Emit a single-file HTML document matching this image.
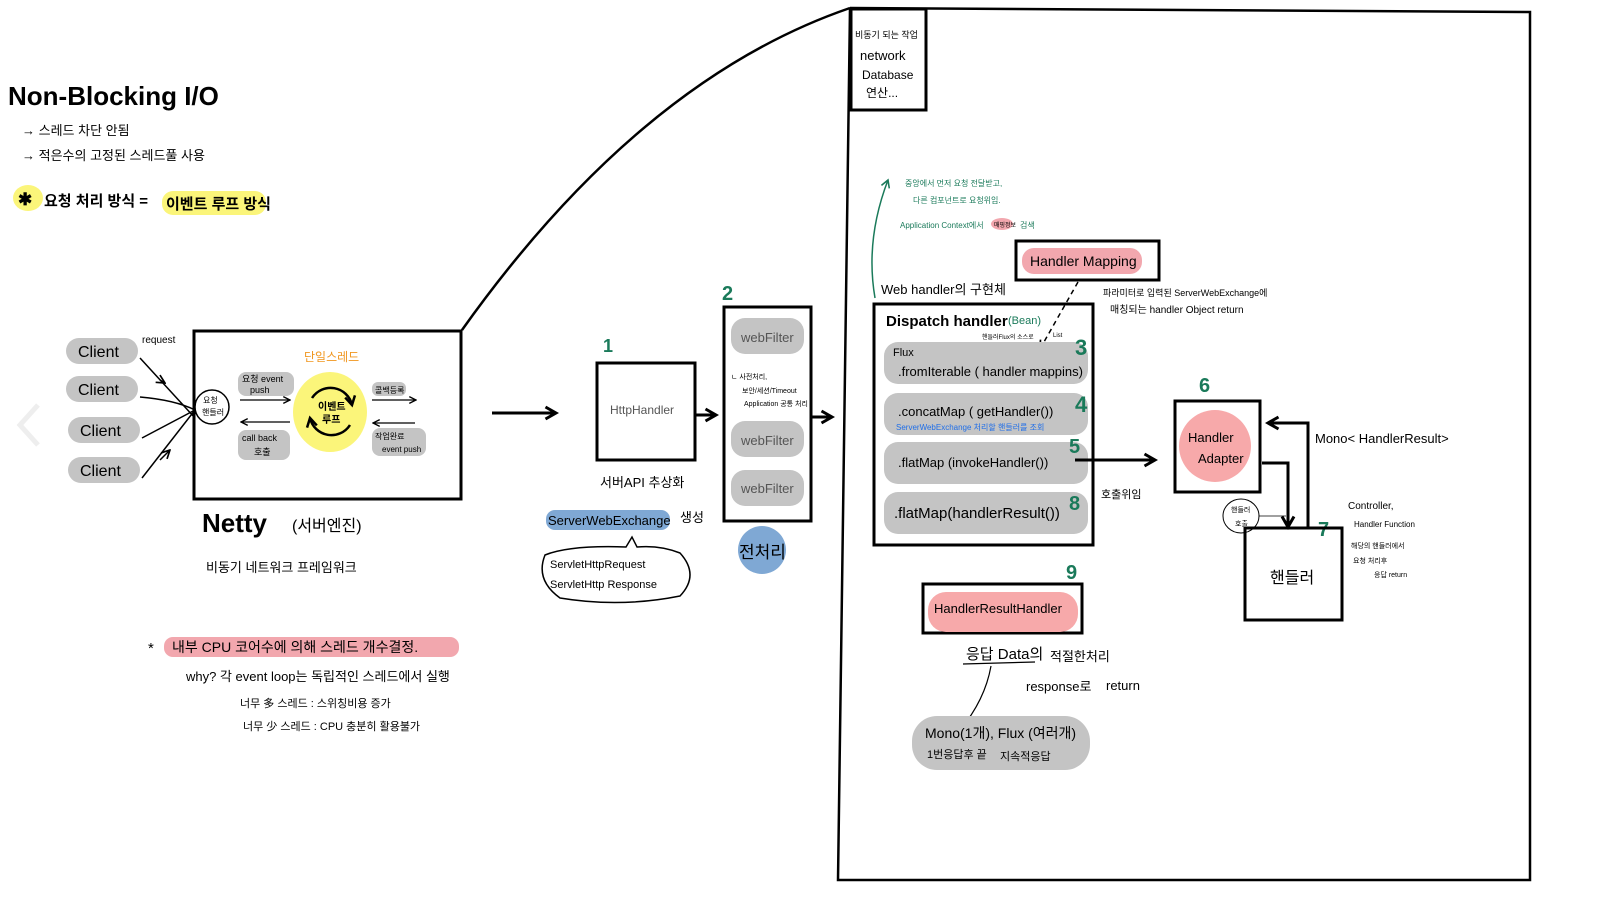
<!DOCTYPE html>
<html><head><meta charset="utf-8"><style>
html,body{margin:0;padding:0;background:#fff;}
svg{display:block;font-family:"Liberation Sans","Noto Sans CJK KR",sans-serif;}
</style></head><body>
<svg width="1598" height="901" viewBox="0 0 1598 901" xmlns="http://www.w3.org/2000/svg">
<defs>
<marker id="ah" viewBox="0 0 10 10" refX="9" refY="5" markerWidth="7" markerHeight="7" orient="auto"><path d="M1 1 L9 5 L1 9" fill="none" stroke="#000" stroke-width="1.6"/></marker>
<marker id="ahb" viewBox="0 0 10 10" refX="8" refY="5" markerWidth="5" markerHeight="5" orient="auto"><path d="M1 1 L8 5 L1 9" fill="none" stroke="#000" stroke-width="2"/></marker>
<marker id="ahg" viewBox="0 0 10 10" refX="8" refY="5" markerWidth="7" markerHeight="7" orient="auto"><path d="M1 1 L8 5 L1 9" fill="none" stroke="#1a7a5a" stroke-width="1.5"/></marker>
</defs>

<path d="M38 405 L20 425 L38 445" fill="none" stroke="#eee" stroke-width="5"/>

<text x="8" y="105" font-size="26" font-weight="bold">Non-Blocking I/O</text>
<text x="22" y="135" font-size="13">→ 스레드 차단 안됨</text>
<text x="22" y="160" font-size="13">→ 적은수의 고정된 스레드풀 사용</text>
<ellipse cx="28" cy="198" rx="15" ry="13" fill="#fbf57a"/>
<text x="18" y="205" font-size="17" font-weight="bold">✱</text>
<text x="44" y="206" font-size="15" font-weight="bold">요청 처리 방식 =</text>
<rect x="162" y="191" width="104" height="24" rx="11" fill="#fbf57a"/>
<text x="166" y="209" font-size="15" font-weight="bold">이벤트 루프 방식</text>

<g font-size="16">
<rect x="66" y="338" width="72" height="26" rx="13" fill="#c4c4c4"/><text x="78" y="357">Client</text>
<rect x="66" y="376" width="72" height="26" rx="13" fill="#c4c4c4"/><text x="78" y="395">Client</text>
<rect x="68" y="417" width="72" height="26" rx="13" fill="#c4c4c4"/><text x="80" y="436">Client</text>
<rect x="68" y="457" width="72" height="26" rx="13" fill="#c4c4c4"/><text x="80" y="476">Client</text>
</g>
<text x="142" y="343" font-size="10">request</text>
<g stroke="#000" stroke-width="1.5" fill="none">
<path d="M140 358 L195 418" /><path d="M160 380 L165 383" marker-end="url(#ah)"/>
<path d="M140 397 Q175 400 195 410"/>
<path d="M142 438 L195 410"/>
<path d="M142 478 L195 410"/><path d="M160 460 L170 450" marker-end="url(#ah)"/>
</g>

<rect x="194" y="331" width="267" height="168" fill="none" stroke="#000" stroke-width="3"/>
<circle cx="212" cy="407" r="17" fill="#fff" stroke="#000" stroke-width="1.5"/>
<text x="203" y="403" font-size="8">요청</text><text x="202" y="415" font-size="8">핸들러</text>
<text x="304" y="361" font-size="12" fill="#f0961e">단일스레드</text>
<rect x="238" y="372" width="56" height="24" rx="8" fill="#c4c4c4"/>
<text x="242" y="382" font-size="9">요청 event</text><text x="250" y="393" font-size="9">push</text>
<line x1="240" y1="400" x2="290" y2="400" stroke="#000" stroke-width="1.2" marker-end="url(#ah)"/>
<line x1="290" y1="422" x2="241" y2="422" stroke="#000" stroke-width="1.2" marker-end="url(#ah)"/>
<rect x="238" y="430" width="52" height="30" rx="8" fill="#c4c4c4"/>
<text x="242" y="441" font-size="9">call back</text><text x="254" y="455" font-size="9">호출</text>
<ellipse cx="330" cy="412" rx="37" ry="40" fill="#fbf57a"/>
<path d="M312 398 A22 22 0 0 1 352 405" fill="none" stroke="#000" stroke-width="2.5" marker-end="url(#ahb)"/>
<path d="M350 425 A22 22 0 0 1 310 418" fill="none" stroke="#000" stroke-width="2.5" marker-end="url(#ahb)"/>
<text x="318" y="410" font-size="10" font-weight="bold">이벤트</text><text x="322" y="423" font-size="10" font-weight="bold">루프</text>
<rect x="372" y="382" width="34" height="14" rx="6" fill="#c4c4c4"/><text x="375" y="393" font-size="8">콜백등록</text>
<line x1="372" y1="400" x2="416" y2="400" stroke="#000" stroke-width="1.2" marker-end="url(#ah)"/>
<line x1="415" y1="423" x2="373" y2="423" stroke="#000" stroke-width="1.2" marker-end="url(#ah)"/>
<rect x="372" y="428" width="54" height="28" rx="8" fill="#c4c4c4"/>
<text x="375" y="439" font-size="8">작업완료</text><text x="382" y="452" font-size="8">event push</text>
<text x="202" y="532" font-size="26" font-weight="bold">Netty</text>
<text x="292" y="531" font-size="16">(서버엔진)</text>
<text x="206" y="572" font-size="13">비동기 네트워크 프레임워크</text>

<text x="148" y="653" font-size="15">*</text>
<rect x="164" y="637" width="295" height="20" rx="9" fill="#f2a7ae"/>
<text x="172" y="652" font-size="14">내부 CPU 코어수에 의해 스레드 개수결정.</text>
<text x="186" y="681" font-size="13">why? 각 event loop는 독립적인 스레드에서 실행</text>
<text x="240" y="707" font-size="11">너무 多 스레드 : 스위칭비용 증가</text>
<text x="243" y="730" font-size="11">너무 少 스레드 : CPU 충분히 활용불가</text>

<path d="M462 330 Q640 80 850 8" fill="none" stroke="#000" stroke-width="2.5"/>
<path d="M850 8 L1530 12 L1530 880 L838 880 L850 8" fill="none" stroke="#000" stroke-width="2.5"/>
<rect x="851" y="9" width="75" height="101" fill="none" stroke="#000" stroke-width="3"/>
<text x="855" y="38" font-size="9">비동기 되는 작업</text>
<text x="860" y="60" font-size="13">network</text>
<text x="862" y="79" font-size="12">Database</text>
<text x="866" y="97" font-size="12">연산...</text>

<line x1="492" y1="413" x2="556" y2="413" stroke="#000" stroke-width="3" marker-end="url(#ahb)"/>
<text x="603" y="352" font-size="18" font-weight="bold" fill="#1a7a5a">1</text>
<rect x="597" y="363" width="98" height="97" fill="none" stroke="#000" stroke-width="3"/>
<text x="610" y="414" font-size="12" fill="#555">HttpHandler</text>
<line x1="695" y1="415" x2="716" y2="415" stroke="#000" stroke-width="3" marker-end="url(#ahb)"/>
<text x="600" y="487" font-size="13">서버API 추상화</text>
<rect x="546" y="510" width="124" height="20" rx="9" fill="#7fa8d4"/>
<text x="548" y="525" font-size="13">ServerWebExchange</text>
<text x="680" y="522" font-size="13">생성</text>
<path d="M545 555 Q535 580 560 598 Q620 608 680 596 Q700 575 680 553 Q660 545 637 547 L632 537 L626 547 Q570 545 545 555 Z" fill="#fff" stroke="#000" stroke-width="1.5"/>
<text x="550" y="568" font-size="11">ServletHttpRequest</text>
<text x="550" y="588" font-size="11">ServletHttp Response</text>

<text x="722" y="300" font-size="20" font-weight="bold" fill="#1a7a5a">2</text>
<rect x="724" y="307" width="87" height="214" fill="none" stroke="#000" stroke-width="3"/>
<rect x="731" y="318" width="73" height="36" rx="14" fill="#c4c4c4"/><text x="741" y="342" font-size="13" fill="#555">webFilter</text>
<text x="731" y="379" font-size="7">ㄴ 사전처리,</text>
<text x="742" y="393" font-size="7">보안/세션/Timeout</text>
<text x="744" y="406" font-size="7">Application 공통 처리</text>
<rect x="731" y="421" width="73" height="36" rx="14" fill="#c4c4c4"/><text x="741" y="445" font-size="13" fill="#555">webFilter</text>
<rect x="731" y="470" width="73" height="36" rx="14" fill="#c4c4c4"/><text x="741" y="493" font-size="13" fill="#555">webFilter</text>
<line x1="811" y1="417" x2="832" y2="417" stroke="#000" stroke-width="3" marker-end="url(#ahb)"/>
<circle cx="762" cy="550" r="24" fill="#7fa8d4"/>
<text x="739" y="558" font-size="17">전처리</text>

<path d="M875 298 Q865 240 888 180" fill="none" stroke="#1a7a5a" stroke-width="1.5" marker-end="url(#ahg)"/>
<g fill="#1a7a5a" font-size="8">
<text x="905" y="186">중앙에서 먼저 요청 전달받고,</text>
<text x="913" y="203">다른 컴포넌트로 요청위임.</text>
<text x="900" y="228">Application Context에서</text>
</g>
<ellipse cx="1002" cy="224" rx="11" ry="6" fill="#f2a7ae"/>
<text x="994" y="227" font-size="6">매핑정보</text>
<text x="1020" y="228" font-size="8" fill="#1a7a5a">검색</text>

<rect x="1016" y="241" width="143" height="39" fill="none" stroke="#000" stroke-width="3"/>
<rect x="1022" y="248" width="120" height="26" rx="12" fill="#f2a7ae"/>
<text x="1030" y="266" font-size="14">Handler Mapping</text>
<path d="M1078 282 L1040 349" fill="none" stroke="#000" stroke-width="1.5" stroke-dasharray="5,4" marker-end="url(#ah)"/>
<text x="1103" y="296" font-size="9">파라미터로 입력된 ServerWebExchange에</text>
<text x="1110" y="313" font-size="10">매칭되는 handler Object return</text>
<text x="881" y="294" font-size="13">Web handler의 구현체</text>

<rect x="874" y="304" width="219" height="241" fill="none" stroke="#000" stroke-width="3"/>
<text x="886" y="326" font-size="15" font-weight="bold">Dispatch handler</text>
<text x="1008" y="324" font-size="11" fill="#1a7a5a">(Bean)</text>
<text x="982" y="339" font-size="6">핸들러Flux의 소스로</text>
<text x="1053" y="337" font-size="6">List</text>
<rect x="884" y="342" width="204" height="42" rx="14" fill="#c4c4c4"/>
<text x="893" y="356" font-size="11">Flux</text>
<text x="898" y="376" font-size="13">.fromIterable ( handler mappins)</text>
<text x="1075" y="355" font-size="22" font-weight="bold" fill="#1a7a5a">3</text>
<rect x="884" y="393" width="204" height="42" rx="14" fill="#c4c4c4"/>
<text x="898" y="416" font-size="13">.concatMap ( getHandler())</text>
<text x="896" y="430" font-size="8" fill="#1f6ee8">ServerWebExchange 처리할 핸들러를 조회</text>
<text x="1075" y="412" font-size="22" font-weight="bold" fill="#1a7a5a">4</text>
<rect x="884" y="442" width="204" height="42" rx="14" fill="#c4c4c4"/>
<text x="898" y="467" font-size="13">.flatMap (invokeHandler())</text>
<text x="1069" y="453" font-size="20" font-weight="bold" fill="#1a7a5a">5</text>
<rect x="884" y="492" width="204" height="42" rx="14" fill="#c4c4c4"/>
<text x="894" y="518" font-size="15">.flatMap(handlerResult())</text>
<text x="1069" y="510" font-size="20" font-weight="bold" fill="#1a7a5a">8</text>

<line x1="1075" y1="460" x2="1155" y2="460" stroke="#000" stroke-width="3" marker-end="url(#ahb)"/>
<text x="1101" y="498" font-size="11">호출위임</text>

<text x="1199" y="392" font-size="20" font-weight="bold" fill="#1a7a5a">6</text>
<rect x="1175" y="401" width="85" height="91" fill="none" stroke="#000" stroke-width="3"/>
<circle cx="1215" cy="446" r="36" fill="#f7a9aa"/>
<text x="1188" y="442" font-size="13">Handler</text>
<text x="1198" y="463" font-size="13">Adapter</text>
<path d="M1262 463 L1288 463 L1288 527" fill="none" stroke="#000" stroke-width="3" marker-end="url(#ahb)"/>
<path d="M1308 527 L1308 423 L1268 423" fill="none" stroke="#000" stroke-width="3" marker-end="url(#ahb)"/>
<text x="1315" y="443" font-size="13">Mono&lt; HandlerResult&gt;</text>
<ellipse cx="1241" cy="516" rx="18" ry="17" fill="#fff" stroke="#000" stroke-width="1"/>
<text x="1231" y="512" font-size="7">핸들러</text><text x="1235" y="526" font-size="7">호출</text>
<line x1="1259" y1="516" x2="1286" y2="516" stroke="#000" stroke-width="0.8"/>
<text x="1318" y="536" font-size="20" font-weight="bold" fill="#1a7a5a">7</text>
<rect x="1245" y="528" width="97" height="92" fill="none" stroke="#000" stroke-width="3"/>
<text x="1270" y="583" font-size="16">핸들러</text>
<text x="1348" y="509" font-size="10">Controller,</text>
<text x="1354" y="527" font-size="8">Handler Function</text>
<text x="1351" y="548" font-size="7">해당의 핸들러에서</text>
<text x="1353" y="563" font-size="7">요청 처리후</text>
<text x="1374" y="577" font-size="7">응답 return</text>

<text x="1066" y="579" font-size="20" font-weight="bold" fill="#1a7a5a">9</text>
<rect x="923" y="584" width="159" height="49" fill="none" stroke="#000" stroke-width="3"/>
<rect x="928" y="592" width="150" height="40" rx="18" fill="#f7a9aa"/>
<text x="934" y="613" font-size="13">HandlerResultHandler</text>
<text x="966" y="659" font-size="15">응답 Data의</text>
<line x1="963" y1="664" x2="1035" y2="662" stroke="#000" stroke-width="1.2"/>
<text x="1050" y="661" font-size="13">적절한처리</text>
<text x="1026" y="691" font-size="13">response로</text>
<text x="1106" y="690" font-size="13">return</text>
<path d="M991 666 Q985 700 960 730" fill="none" stroke="#000" stroke-width="1.2"/>
<rect x="912" y="716" width="178" height="54" rx="25" fill="#c4c4c4"/>
<text x="925" y="738" font-size="14">Mono(1개), Flux (여러개)</text>
<text x="927" y="758" font-size="11">1번응답후 끝</text>
<text x="1000" y="760" font-size="11">지속적응답</text>
</svg>
</body></html>
